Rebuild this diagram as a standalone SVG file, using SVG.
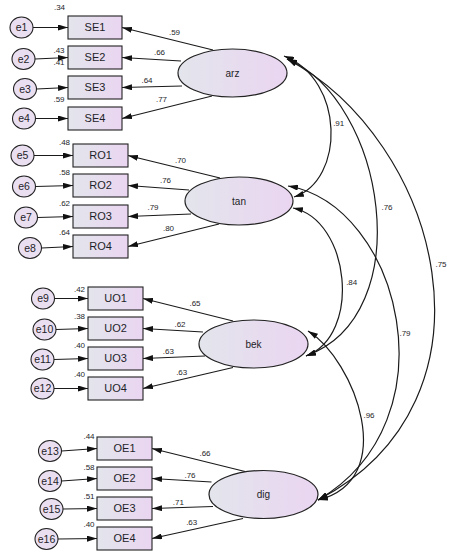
<svg xmlns="http://www.w3.org/2000/svg" width="474" height="558" viewBox="0 0 474 558">
<style>
text{font-family:"Liberation Sans",Arial,sans-serif;fill:#1e1e28;text-anchor:middle}
.lb{font-size:11px}
.lt{font-size:10px}
.el{font-size:10.5px}
.n{font-size:8px}
.box{fill:url(#gb);stroke:#222;stroke-width:1.1}
.lat{fill:url(#gb);stroke:#222;stroke-width:1.2}
.err{fill:#eadff1;stroke:#222;stroke-width:1.1}
.c line,.c path{stroke:#1a1a1a;stroke-width:1.2;fill:none;marker-end:url(#ah)}
.c path.cov{marker-start:url(#ah)}
</style>
<defs>
<linearGradient id="gb" x1="0" y1="0" x2="1" y2="0">
<stop offset="0" stop-color="#e3e5ec"/>
<stop offset="1" stop-color="#ead5f1"/>
</linearGradient>
<marker id="ah" viewBox="0 0 10 6" refX="10" refY="3" markerWidth="10" markerHeight="6" markerUnits="userSpaceOnUse" orient="auto-start-reverse">
<path d="M0,0 L10,3 L0,6 z" fill="#111"/>
</marker>
</defs>
<g id="connectors" class="c">
<line x1="33" y1="27.5" x2="68" y2="27.5"/>
<line x1="35" y1="59" x2="68" y2="57.5"/>
<line x1="36.5" y1="89" x2="68" y2="87.5"/>
<line x1="35.5" y1="118.5" x2="68" y2="118.5"/>
<line x1="34" y1="155.5" x2="73" y2="155.5"/>
<line x1="35.5" y1="186.5" x2="73" y2="185.5"/>
<line x1="37.5" y1="217.5" x2="73" y2="216.5"/>
<line x1="41.5" y1="248" x2="73" y2="246.5"/>
<line x1="54.5" y1="298.5" x2="88" y2="298.5"/>
<line x1="56" y1="329.5" x2="88" y2="328.5"/>
<line x1="54" y1="359.5" x2="88" y2="358.5"/>
<line x1="54" y1="388.5" x2="88" y2="388.5"/>
<line x1="61.5" y1="451" x2="97" y2="448.5"/>
<line x1="61.5" y1="481" x2="97" y2="478.5"/>
<line x1="63" y1="509" x2="97" y2="508.5"/>
<line x1="58" y1="539" x2="97" y2="538.5"/>
<line x1="213" y1="50" x2="122" y2="27.5"/>
<line x1="181" y1="61" x2="122" y2="57.5"/>
<line x1="182" y1="86" x2="122" y2="87.5"/>
<line x1="212" y1="96" x2="122" y2="118.5"/>
<line x1="220" y1="178" x2="128" y2="155.5"/>
<line x1="189" y1="190" x2="128" y2="185.5"/>
<line x1="191" y1="214" x2="128" y2="216.5"/>
<line x1="219" y1="224" x2="128" y2="246.5"/>
<line x1="233" y1="321" x2="143" y2="298.5"/>
<line x1="203" y1="332" x2="143" y2="328.5"/>
<line x1="205" y1="356" x2="143" y2="358.5"/>
<line x1="233" y1="367.5" x2="143" y2="388.5"/>
<line x1="245" y1="471.5" x2="152" y2="448.5"/>
<line x1="211.5" y1="482" x2="152" y2="478.5"/>
<line x1="213" y1="506.5" x2="152" y2="508.5"/>
<line x1="243" y1="518.5" x2="152" y2="538.5"/>
<path class="cov" d="M284,56 C345,80 345,180 294,197"/>
<path class="cov" d="M287,59 C385,100 420,315 306,356"/>
<path class="cov" d="M287,59 C440,140 510,400 318,500"/>
<path class="cov" d="M293,208 C350,220 362,335 306,356"/>
<path class="cov" d="M288,186 C400,205 455,420 318,500"/>
<path class="cov" d="M308,331 C355,360 400,480 318,500"/>
</g>
<g id="e1"><ellipse class="err" cx="21.5" cy="27.5" rx="11.5" ry="10.5"/><text class="el" x="21.5" y="31.2">e1</text></g>
<g id="e2"><ellipse class="err" cx="23.5" cy="59" rx="11.5" ry="10.5"/><text class="el" x="23.5" y="62.7">e2</text></g>
<g id="e3"><ellipse class="err" cx="25" cy="89" rx="11.5" ry="10.5"/><text class="el" x="25" y="92.7">e3</text></g>
<g id="e4"><ellipse class="err" cx="24" cy="118.5" rx="11.5" ry="10.5"/><text class="el" x="24" y="122.2">e4</text></g>
<g id="e5"><ellipse class="err" cx="22.5" cy="155.5" rx="11.5" ry="10.5"/><text class="el" x="22.5" y="159.2">e5</text></g>
<g id="e6"><ellipse class="err" cx="24" cy="186.5" rx="11.5" ry="10.5"/><text class="el" x="24" y="190.2">e6</text></g>
<g id="e7"><ellipse class="err" cx="26" cy="217.5" rx="11.5" ry="10.5"/><text class="el" x="26" y="221.2">e7</text></g>
<g id="e8"><ellipse class="err" cx="30" cy="248" rx="11.5" ry="10.5"/><text class="el" x="30" y="251.7">e8</text></g>
<g id="e9"><ellipse class="err" cx="43" cy="298.5" rx="11.5" ry="10.5"/><text class="el" x="43" y="302.2">e9</text></g>
<g id="e10"><ellipse class="err" cx="44.5" cy="329.5" rx="11.5" ry="10.5"/><text class="el" x="44.5" y="333.2">e10</text></g>
<g id="e11"><ellipse class="err" cx="42.5" cy="359.5" rx="11.5" ry="10.5"/><text class="el" x="42.5" y="363.2">e11</text></g>
<g id="e12"><ellipse class="err" cx="42.5" cy="388.5" rx="11.5" ry="10.5"/><text class="el" x="42.5" y="392.2">e12</text></g>
<g id="e13"><ellipse class="err" cx="50" cy="451" rx="11.5" ry="10.5"/><text class="el" x="50" y="454.7">e13</text></g>
<g id="e14"><ellipse class="err" cx="50" cy="481" rx="11.5" ry="10.5"/><text class="el" x="50" y="484.7">e14</text></g>
<g id="e15"><ellipse class="err" cx="51.5" cy="509" rx="11.5" ry="10.5"/><text class="el" x="51.5" y="512.7">e15</text></g>
<g id="e16"><ellipse class="err" cx="46.5" cy="539" rx="11.5" ry="10.5"/><text class="el" x="46.5" y="542.7">e16</text></g>
<g id="SE1"><rect class="box" x="68" y="16" width="54" height="23"/><text class="lb" x="95" y="31.4">SE1</text><text class="n" x="59.5" y="10">.34</text></g>
<g id="SE2"><rect class="box" x="68" y="46" width="54" height="23"/><text class="lb" x="95" y="61.4">SE2</text><text class="n" x="59" y="53">.43</text></g>
<g id="SE3"><rect class="box" x="68" y="76" width="54" height="23"/><text class="lb" x="95" y="91.4">SE3</text><text class="n" x="59" y="64.5">.41</text></g>
<g id="SE4"><rect class="box" x="68" y="107" width="54" height="23"/><text class="lb" x="95" y="122.4">SE4</text><text class="n" x="59" y="102">.59</text></g>
<g id="RO1"><rect class="box" x="73" y="144" width="55" height="23"/><text class="lb" x="100.5" y="159.4">RO1</text><text class="n" x="64.5" y="145">.48</text></g>
<g id="RO2"><rect class="box" x="73" y="174" width="55" height="23"/><text class="lb" x="100.5" y="189.4">RO2</text><text class="n" x="64.5" y="175">.58</text></g>
<g id="RO3"><rect class="box" x="73" y="205" width="55" height="23"/><text class="lb" x="100.5" y="220.4">RO3</text><text class="n" x="64.5" y="205.5">.62</text></g>
<g id="RO4"><rect class="box" x="73" y="235" width="55" height="23"/><text class="lb" x="100.5" y="250.4">RO4</text><text class="n" x="64.5" y="234.5">.64</text></g>
<g id="UO1"><rect class="box" x="88" y="287" width="55" height="23"/><text class="lb" x="115.5" y="302.4">UO1</text><text class="n" x="79.5" y="292">.42</text></g>
<g id="UO2"><rect class="box" x="88" y="317" width="55" height="23"/><text class="lb" x="115.5" y="332.4">UO2</text><text class="n" x="79.5" y="318.5">.38</text></g>
<g id="UO3"><rect class="box" x="88" y="347" width="55" height="23"/><text class="lb" x="115.5" y="362.4">UO3</text><text class="n" x="79.5" y="348">.40</text></g>
<g id="UO4"><rect class="box" x="88" y="377" width="55" height="23"/><text class="lb" x="115.5" y="392.4">UO4</text><text class="n" x="79.5" y="377">.40</text></g>
<g id="OE1"><rect class="box" x="97" y="437" width="55" height="23"/><text class="lb" x="124.5" y="452.4">OE1</text><text class="n" x="89" y="438.5">.44</text></g>
<g id="OE2"><rect class="box" x="97" y="467" width="55" height="23"/><text class="lb" x="124.5" y="482.4">OE2</text><text class="n" x="89" y="469.5">.58</text></g>
<g id="OE3"><rect class="box" x="97" y="497" width="55" height="23"/><text class="lb" x="124.5" y="512.4">OE3</text><text class="n" x="89" y="499">.51</text></g>
<g id="OE4"><rect class="box" x="97" y="527" width="55" height="23"/><text class="lb" x="124.5" y="542.4">OE4</text><text class="n" x="89" y="527">.40</text></g>
<g id="arz"><ellipse class="lat" cx="232.5" cy="73" rx="54.5" ry="24"/><text class="lt" x="232.5" y="76.5">arz</text></g>
<g id="tan"><ellipse class="lat" cx="239" cy="201" rx="54" ry="24"/><text class="lt" x="239" y="204.5">tan</text></g>
<g id="bek"><ellipse class="lat" cx="253.5" cy="344" rx="54.5" ry="24"/><text class="lt" x="253.5" y="347.5">bek</text></g>
<g id="dig"><ellipse class="lat" cx="263.5" cy="494.5" rx="54.5" ry="24"/><text class="lt" x="263.5" y="498">dig</text></g>
<g id="labels">
<text class="n" x="174.5" y="35">.59</text>
<text class="n" x="159.5" y="55">.66</text>
<text class="n" x="147" y="83">.64</text>
<text class="n" x="161.5" y="102">.77</text>
<text class="n" x="180.5" y="163">.70</text>
<text class="n" x="165.5" y="183">.76</text>
<text class="n" x="153" y="210.3">.79</text>
<text class="n" x="168.5" y="231.3">.80</text>
<text class="n" x="195" y="305.7">.65</text>
<text class="n" x="180" y="327">.62</text>
<text class="n" x="168.3" y="353.7">.63</text>
<text class="n" x="181.7" y="374.7">.63</text>
<text class="n" x="205" y="456.3">.66</text>
<text class="n" x="190" y="478">.76</text>
<text class="n" x="178.3" y="504.7">.71</text>
<text class="n" x="191.7" y="524.7">.63</text>
<text class="n" x="338.7" y="126.3">.91</text>
<text class="n" x="387" y="209.7">.76</text>
<text class="n" x="441" y="267">.75</text>
<text class="n" x="351.7" y="284.7">.84</text>
<text class="n" x="405" y="335.7">.79</text>
<text class="n" x="369" y="418">.96</text>
</g>
</svg>
